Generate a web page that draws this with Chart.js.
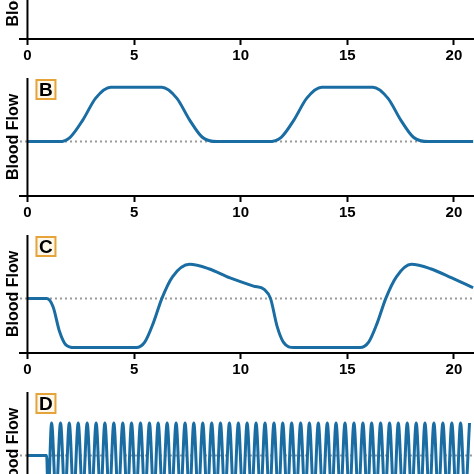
<!DOCTYPE html>
<html><head><meta charset="utf-8">
<script src="https://cdn.jsdelivr.net/npm/chart.js@4"></script>
<style>html,body{margin:0;padding:0;width:474px;height:474px;overflow:hidden;background:#fff;position:relative}canvas{position:absolute;left:0}</style>
</head><body>
<canvas id="cA" width="474" height="147" style="top:-80px"></canvas>
<canvas id="cB" width="474" height="154" style="top:70px"></canvas>
<canvas id="cC" width="474" height="154" style="top:227px"></canvas>
<canvas id="cD" width="474" height="154" style="top:384px"></canvas>
<script>
const xTicks=[0,5,10,15,20];
const yLabel="Blood Flow";
const bX=[0,1.5,2.0,2.6,3.2,3.9,6.3,7.0,7.6,8.2,8.9,11.3,11.9,12.5,13.1,13.8,16.2,16.9,17.5,18.1,18.8,20.9];
const bY=[1,1,1.08,1.4,1.8,2,2,1.8,1.4,1.08,1,1,1.08,1.4,1.8,2,2,1.8,1.4,1.08,1,1];
const cX=[0,0.9,1.2,1.5,1.8,2.2,5.1,5.5,5.9,6.3,6.8,7.6,8.5,9.5,10.6,11.1,11.4,11.7,12.0,12.5,15.6,16.0,16.4,16.8,17.3,18.0,18.9,19.9,20.9];
const cY=[1,1,0.85,0.4,0.15,0.1,0.1,0.2,0.55,1,1.4,1.63,1.55,1.38,1.23,1.17,1.0,0.5,0.2,0.1,0.1,0.2,0.55,1,1.4,1.63,1.55,1.38,1.2];
const dPeakX=[1.13,1.55,1.96,2.38,2.80,3.22,3.63,4.05,4.47,4.88,5.30,5.72,6.13,6.55,6.97,7.39,7.80,8.22,8.64,9.05,9.47,9.89,10.30,10.72,11.14,11.56,11.97,12.39,12.81,13.22,13.64,14.06,14.47,14.89,15.31,15.73,16.14,16.56,16.98,17.39,17.81,18.23,18.64,19.06,19.48,19.90,20.31,20.73];
const dTroughX=[0.97,1.34,1.76,2.17,2.59,3.01,3.43,3.84,4.26,4.68,5.09,5.51,5.93,6.34,6.76,7.18,7.60,8.01,8.43,8.85,9.26,9.68,10.10,10.51,10.93,11.35,11.77,12.18,12.60,13.02,13.43,13.85,14.27,14.68,15.10,15.52,15.94,16.35,16.77,17.19,17.60,18.02,18.44,18.85,19.27,19.69,20.11,20.52];
const dStartX=[0,0.9], dStartY=[1,1];
const dPeakY=1.6, dTroughY=0.2;

function pts(xs,ys){return xs.map((x,i)=>({x:x,y:ys[i]}));}
const dPts=pts(dStartX,dStartY).concat(
  dPeakX.map(x=>({x:x,y:dPeakY})),dTroughX.map(x=>({x:x,y:dTroughY}))
).sort((a,b)=>a.x-b.x);

const deco={id:'deco',
 beforeDatasetsDraw(ch,a,o){const c=ch.ctx,xs=ch.scales.x,ys=ch.scales.y,ca=ch.chartArea;
  c.save();
  if(o.dashed){c.strokeStyle='#9a9a9a';c.lineWidth=2;c.setLineDash([2,3]);const y=ys.getPixelForValue(1);
   c.beginPath();c.moveTo(ca.left,y);c.lineTo(ca.right,y);c.stroke();c.setLineDash([]);}
  c.restore();},
 afterDatasetsDraw(ch,a,o){const c=ch.ctx,xs=ch.scales.x,ca=ch.chartArea;
  c.save();
  const x0=xs.getPixelForValue(0);
  c.strokeStyle='#000';c.lineWidth=2;c.beginPath();c.moveTo(x0,ca.top);c.lineTo(x0,ca.bottom);c.stroke();
  c.fillStyle='#000';c.font='bold 16px "Liberation Sans", Arial';c.textAlign='center';c.textBaseline='middle';
  c.translate(14,(ca.top+ca.bottom)/2);c.rotate(-Math.PI/2);c.fillText(yLabel,0,0);
  c.restore();
  if(o.letter){c.save();const bx=x0+9,by=ca.top+2;
   c.fillStyle='#fdf8ea';c.strokeStyle='#e5a33a';c.lineWidth=2;c.fillRect(bx,by,19,19);c.strokeRect(bx,by,19,19);
   c.fillStyle='#000';c.font='bold 19px "Liberation Sans", Arial';c.textAlign='center';c.textBaseline='middle';
   c.fillText(o.letter,bx+9.5,by+10.5);c.restore();}
 }};

function make(id,data,letter,dashed){
 new Chart(document.getElementById(id),{type:'line',
  data:{datasets:[{data:data,borderColor:'#1a6da3',borderWidth:3,pointRadius:0,cubicInterpolationMode:'monotone',fill:false}]},
  options:{responsive:false,animation:false,layout:{padding:{left:20,right:0,top:8,bottom:0}},
   plugins:{legend:{display:false},tooltip:{enabled:false},deco:{letter:letter,dashed:dashed}},
   scales:{x:{type:'linear',min:-0.35,max:20.94,afterBuildTicks:s=>{s.ticks=xTicks.map(v=>({value:v}));},
     border:{display:true,color:'#000',width:2},
     grid:{drawOnChartArea:false,drawTicks:true,tickLength:6,tickWidth:2,color:'#000'},
     ticks:{color:'#000',font:{family:'"Liberation Sans", Arial',size:15,weight:'bold'},padding:2,maxRotation:0}},
    y:{display:false,min:0,max:2.17}}},
  plugins:[deco]});
}
make('cA',[], null,false);
make('cB',pts(bX,bY),'B',true);
make('cC',pts(cX,cY),'C',true);
make('cD',dPts,'D',true);
</script></body></html>
